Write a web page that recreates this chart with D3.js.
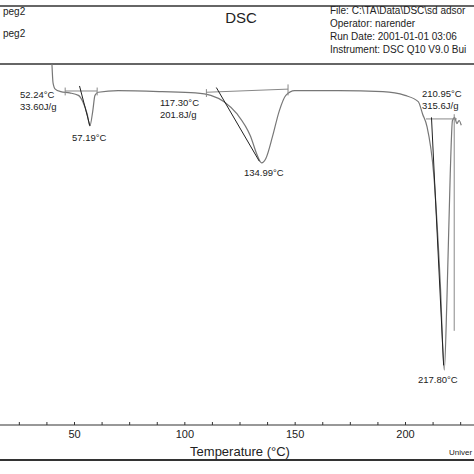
<!DOCTYPE html><html><head><script src="https://cdn.jsdelivr.net/npm/d3@7"></script>
<style>body{margin:0;background:#fff}text{font-family:"Liberation Sans",Arial,sans-serif;fill:#222}</style></head><body>
<svg id="c" width="474" height="474"></svg>
<script>
const temps=[40,40.5,41.5,44,48,52,54,56,57.2,58.5,59.5,61,70,90,105,112,118,124,130,133,135,137,140,143,146,150,170,190,200,206,208,210,213,216,217.8,219,220.5,221.5,222.5,223.5,224.5,225.5];
const heatFlow=[0.5,-0.1,-0.3,-0.38,-0.42,-0.5,-0.7,-1.1,-1.47,-1.0,-0.5,-0.4,-0.35,-0.38,-0.42,-0.5,-0.7,-1.1,-1.8,-2.4,-2.65,-2.5,-1.8,-1.0,-0.5,-0.35,-0.35,-0.38,-0.5,-0.7,-1.1,-1.5,-3,-6.5,-9.25,-7,-3,-1.3,-1.2,-1.4,-1.3,-1.45];
const tickValues=d3.range(25,226,12.5);
const majorTicks=[50,100,150,200];
const annotations=[["52.24°C",20,98],["33.60J/g",20,110],["57.19°C",72,141],["117.30°C",160,106],["201.8J/g",160,118],["134.99°C",244,176],["210.95°C",422,97],["315.6J/g",422,109],["217.80°C",418,383]];
const svg=d3.select("#c");
const x=d3.scaleLinear().domain([50,200]).range([74,405]);
const y=d3.scaleLinear().domain([-11,0.5]).range([425,64]);
[[6,1.5],[64,1.5],[425,1.2],[460,2]].forEach(([yy,w])=>svg.append("line").attr("x1",0).attr("x2",474).attr("y1",yy).attr("y2",yy).attr("stroke","#333").attr("stroke-width",w));
const ax=svg.append("g").attr("transform","translate(0,425)").call(d3.axisBottom(x).tickValues(tickValues).tickSize(-3).tickFormat(d=>majorTicks.includes(d)?d:""));
ax.select(".domain").remove();
ax.selectAll("line").attr("stroke","#333");
ax.selectAll("text").attr("y",0).attr("dy","1.15em").style("font-size","11px").style("font-family","Liberation Sans");
svg.append("text").attr("x",240).attr("y",456).attr("text-anchor","middle").style("font-size","13px").text("Temperature (°C)");
svg.append("text").attr("x",449).attr("y",455).style("font-size","8px").text("Univer");
svg.append("text").attr("x",3).attr("y",15).style("font-size","10px").text("peg2");
svg.append("text").attr("x",3).attr("y",37).style("font-size","10px").text("peg2");
svg.append("text").attr("x",241).attr("y",23).attr("text-anchor","middle").style("font-size","15px").text("DSC");
["File: C:\\TA\\Data\\DSC\\sd adsor","Operator: narender","Run Date: 2001-01-01 03:06","Instrument: DSC Q10 V9.0 Bui"].forEach((t,i)=>svg.append("text").attr("x",330).attr("y",14+i*13).style("font-size","10px").text(t));
const line=d3.line().x((d,i)=>x(temps[i])).y(d=>y(d)).curve(d3.curveMonotoneX);
svg.append("path").attr("d",line(heatFlow)).attr("fill","none").attr("stroke","#777").attr("stroke-width",1.2);
const seg=(t1,h1,t2,h2,c)=>svg.append("line").attr("x1",x(t1)).attr("y1",y(h1)).attr("x2",x(t2)).attr("y2",y(h2)).attr("stroke",c).attr("stroke-width",1);
seg(46,-0.36,60.5,-0.36,"#888");seg(52.5,-0.2,57.2,-1.47,"#222");
seg(46,-0.25,46,-0.5,"#888");seg(60.5,-0.25,60.5,-0.5,"#888");
seg(110,-0.4,147,-0.3,"#888");seg(114.5,-0.25,134,-2.6,"#222");
seg(110,-0.3,110,-0.55,"#888");seg(147,-0.15,147,-0.5,"#888");
seg(209.5,-1.25,223.5,-1.25,"#888");seg(212,-1.2,217.5,-9.1,"#222");
seg(222.3,-1.1,222.3,-8,"#888");
annotations.forEach(([t,xx,yy])=>svg.append("text").attr("x",xx).attr("y",yy).style("font-size","9.5px").text(t));
</script></body></html>
